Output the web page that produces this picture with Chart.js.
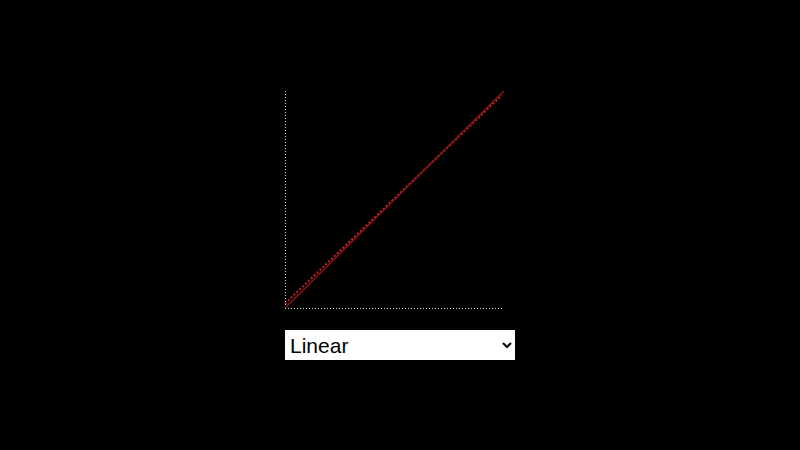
<!DOCTYPE html>
<html>
<head>
<meta charset="utf-8">
<script src="https://cdn.jsdelivr.net/npm/chart.js@4/dist/chart.umd.min.js"></script>
<style>
  html, body { margin: 0; padding: 0; background: #000; width: 800px; height: 450px; overflow: hidden; }
  #wrap { position: absolute; left: 285px; top: 85px; width: 230px; height: 230px; }
  #easing {
    position: absolute; left: 285px; top: 330px; width: 230px; height: 30px;
    font: 21px "Liberation Sans", Arial, sans-serif; background: #fff; color: #000;
    border: none; padding: 0 0 0 1px; margin: 0;
  }
</style>
</head>
<body>
<div id="wrap"><canvas id="chart"></canvas></div>
<select id="easing"><option>Linear</option></select>

<script>
// ------- data -------
const curveX   = [0, 1];
const curveY   = [0, 1];
const sampleX  = [0, 0.99];
const sampleY  = [0.02, 0.98];
const easings  = ['Linear'];

const toPts = (xs, ys) => xs.map((x, i) => ({ x, y: ys[i] }));

// dotted axis lines: only the grid line at 0 is shown
const axisGrid = {
  display: true, drawTicks: false, lineWidth: 1,
  color: (c) => (c.tick && c.tick.value === 0 ? '#e0e0e0' : 'rgba(0,0,0,0)')
};
const axisBorder = { display: false, dash: [1, 2] };

const chart = new Chart(document.getElementById('chart'), {
  type: 'line',
  data: {
    datasets: [
      { label: 'curve', data: toPts(curveX, curveY), borderColor: '#8e1414', borderWidth: 1.5,
        pointRadius: 0, tension: 0 },
      { label: 'sample', data: toPts(sampleX, sampleY), borderColor: '#c62424', borderWidth: 2,
        borderDash: [2, 2], pointRadius: 0, tension: 0 }
    ]
  },
  options: {
    responsive: true, maintainAspectRatio: false, animation: false,
    layout: { padding: { left: 0, right: 11, top: 6, bottom: 7 } },
    plugins: { legend: { display: false }, tooltip: { enabled: false } },
    scales: {
      x: { type: 'linear', min: 0, max: 1, ticks: { display: false, stepSize: 1 },
           grid: axisGrid, border: axisBorder },
      y: { type: 'linear', min: 0, max: 1, ticks: { display: false, stepSize: 1 },
           grid: axisGrid, border: axisBorder }
    }
  }
});

// select options from list
document.getElementById('easing').innerHTML = easings.map(e => `<option>${e}</option>`).join('');
</script>
</body>
</html>
